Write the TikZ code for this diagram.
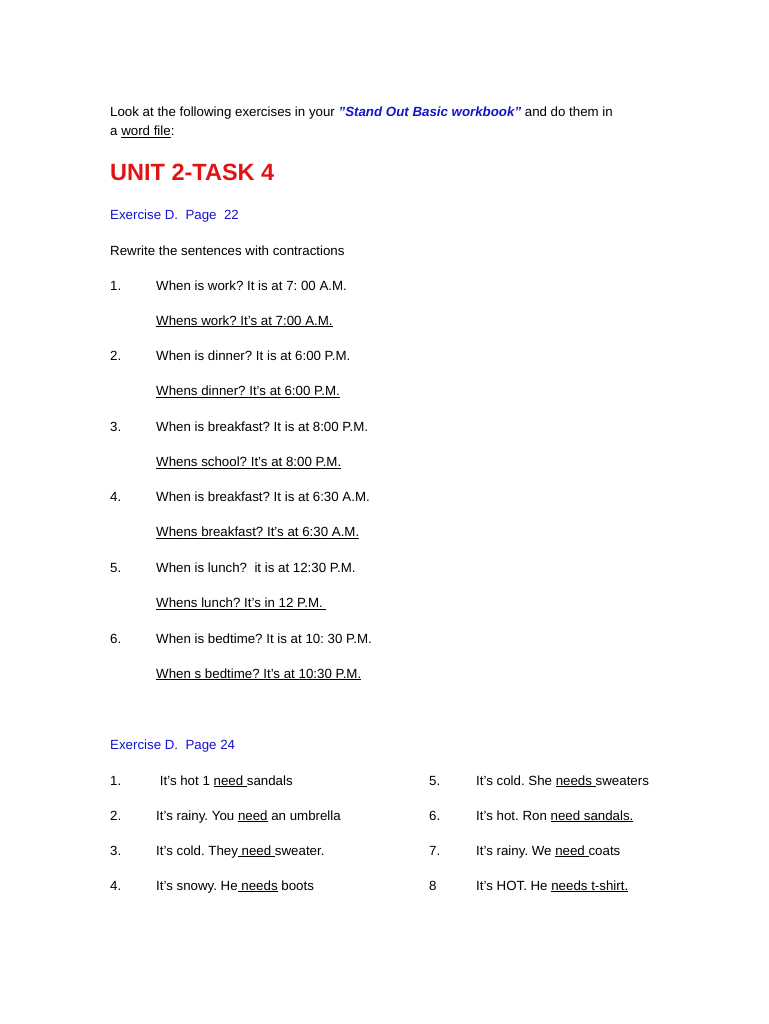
\documentclass[tikz,border=0pt]{standalone}
\usepackage{fontspec}
\setmainfont{Liberation Sans}
\frenchspacing
\definecolor{lblue}{RGB}{20,20,200}
\definecolor{lred}{RGB}{225,20,20}
\begin{document}
\begin{tikzpicture}[x=1pt,y=-1pt,
  t/.style={anchor=base west,inner sep=0pt,font=\fontsize{13.3}{15}\selectfont}]
\useasboundingbox (0,0) rectangle (768,1024);
\node[t] (l1) at (110,117) {Look at the following exercises in your \textcolor{lblue}{\textbf{\textit{\symbol{34}Stand Out Basic workbook\symbol{34}}}} and do them in};
\node[t] (l2) at (110,136) {a \underline{word file}:};
\node[t,font=\fontsize{23.5}{25}\selectfont\bfseries,text=lred] (h) at (110,181) {UNIT 2-TASK 4};
\node[t,text=lblue] (e1) at (110,219) {Exercise D.\ \ Page\ \ 22};
\node[t] (rw) at (110,255) {Rewrite the sentences with contractions};
\foreach \n/\q/\a [count=\i from 0] in {
 1./When is work? It is at 7: 00 A.M./Whens work? It's at 7:00 A.M.,
 2./When is dinner? It is at 6:00 P.M./Whens dinner? It's at 6:00 P.M.,
 3./When is breakfast? It is at 8:00 P.M./Whens school? It's at 8:00 P.M.,
 4./When is breakfast? It is at 6:30 A.M./Whens breakfast? It's at 6:30 A.M.,
 5./When is lunch?\ \ it is at 12:30 P.M./Whens lunch? It's in 12 P.M.\ ,
 6./When is bedtime? It is at 10: 30 P.M./When s bedtime? It's at 10:30 P.M.}{
  \node[t] (n\i) at (110,290+70.6*\i) {\n};
  \node[t] (q\i) at (156,290+70.6*\i) {\q};
  \node[t] (a\i) at (156,325+70.6*\i) {\underline{\a}};
}
\node[t,text=lblue] (e2) at (110,749) {Exercise D.\ \ Page 24};
\node[t] (m1) at (110,785) {1.};
\node[t] (s1) at (156,785) {\ It's hot 1 \underline{need }sandals};
\node[t] (m2) at (110,820) {2.};
\node[t] (s2) at (156,820) {It's rainy. You \underline{need} an umbrella};
\node[t] (m3) at (110,855) {3.};
\node[t] (s3) at (156,855) {It's cold. They\underline{ need }sweater.};
\node[t] (m4) at (110,890) {4.};
\node[t] (s4) at (156,890) {It's snowy. He\underline{ needs} boots};
\node[t] (m5) at (429,785) {5.};
\node[t] (s5) at (476,785) {It's cold. She \underline{needs }sweaters};
\node[t] (m6) at (429,820) {6.};
\node[t] (s6) at (476,820) {It's hot. Ron \underline{need sandals.}};
\node[t] (m7) at (429,855) {7.};
\node[t] (s7) at (476,855) {It's rainy. We \underline{need }coats};
\node[t] (m8) at (429,890) {8};
\node[t] (s8) at (476,890) {It's HOT. He \underline{needs t-shirt.}};
\end{tikzpicture}
\end{document}
